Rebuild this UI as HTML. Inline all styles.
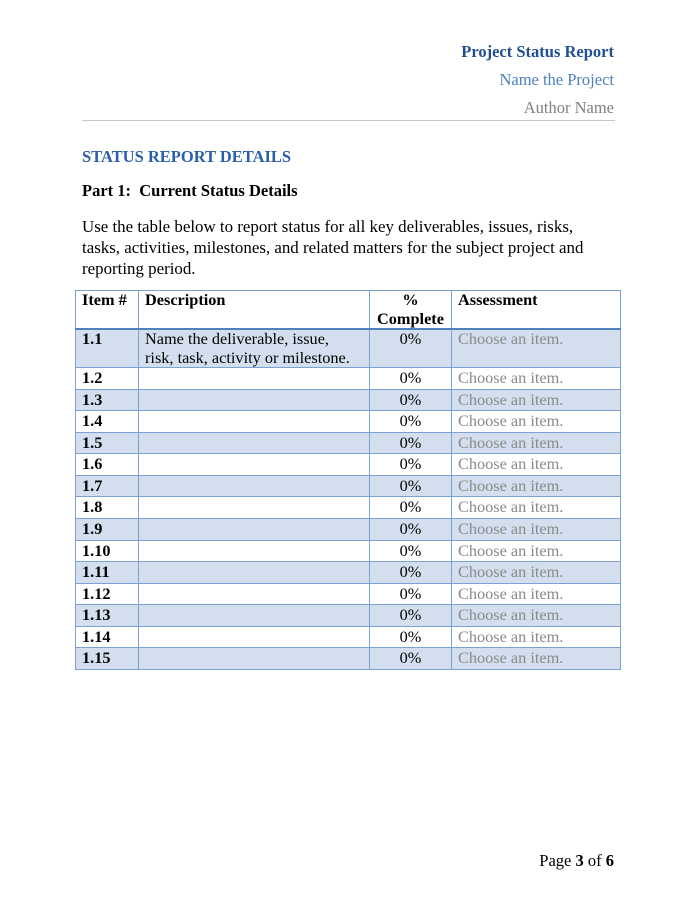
<!DOCTYPE html>
<html><head><meta charset="utf-8"><style>
body{margin:0;width:696px;height:900px;background:#fff;position:relative;font-family:"Liberation Serif",serif;color:#000;overflow:hidden}
.a{position:absolute;white-space:nowrap}
.r{right:82px;text-align:right;font-size:16.5px}
table{position:absolute;left:75px;top:290px;width:546px;border-collapse:collapse;font-size:16.3px}
td{border:1px solid #7ea1d4;padding:0 6px;height:20.57px;vertical-align:top;line-height:19.5px;overflow:hidden}
tr.t td{line-height:18.5px;height:36px}
tr.s td{background:#d3dfee}
td.c{text-align:center}
td.g{color:#8a8a8a}
td.b{font-weight:bold}
</style></head><body>
<div class="a r" style="top:42px;font-weight:bold;color:#1f4f8f">Project Status Report</div>
<div class="a r" style="top:70px;color:#4f81bd">Name the Project</div>
<div class="a r" style="top:98px;color:#808080">Author Name</div>
<div class="a" style="left:82px;top:120px;width:533px;height:1px;background:#c8c8c8"></div>
<div class="a" style="left:82px;top:147px;font-size:16.5px;font-weight:bold;color:#2a5ea8">STATUS REPORT DETAILS</div>
<div class="a" style="left:82px;top:181px;font-size:16.5px;font-weight:bold">Part 1:&nbsp; Current Status Details</div>
<div class="a" style="left:82px;top:216px;font-size:16.9px;line-height:21px">Use the table below to report status for all key deliverables, issues, risks,<br>tasks, activities, milestones, and related matters for the subject project and<br>reporting period.</div>
<table>
<colgroup><col style="width:63px"><col style="width:231px"><col style="width:82px"><col></colgroup>
<tr class="t" style="border-bottom:2px solid #4f81bd"><td class="b">Item #</td><td class="b">Description</td><td class="b c">%<br>Complete</td><td class="b">Assessment</td></tr>
<tr class="s t"><td class="b">1.1</td><td>Name the deliverable, issue,<br>risk, task, activity or milestone.</td><td class="c">0%</td><td class="g">Choose an item.</td></tr>
<tr><td class="b">1.2</td><td></td><td class="c">0%</td><td class="g">Choose an item.</td></tr>
<tr class="s"><td class="b">1.3</td><td></td><td class="c">0%</td><td class="g">Choose an item.</td></tr>
<tr><td class="b">1.4</td><td></td><td class="c">0%</td><td class="g">Choose an item.</td></tr>
<tr class="s"><td class="b">1.5</td><td></td><td class="c">0%</td><td class="g">Choose an item.</td></tr>
<tr><td class="b">1.6</td><td></td><td class="c">0%</td><td class="g">Choose an item.</td></tr>
<tr class="s"><td class="b">1.7</td><td></td><td class="c">0%</td><td class="g">Choose an item.</td></tr>
<tr><td class="b">1.8</td><td></td><td class="c">0%</td><td class="g">Choose an item.</td></tr>
<tr class="s"><td class="b">1.9</td><td></td><td class="c">0%</td><td class="g">Choose an item.</td></tr>
<tr><td class="b">1.10</td><td></td><td class="c">0%</td><td class="g">Choose an item.</td></tr>
<tr class="s"><td class="b">1.11</td><td></td><td class="c">0%</td><td class="g">Choose an item.</td></tr>
<tr><td class="b">1.12</td><td></td><td class="c">0%</td><td class="g">Choose an item.</td></tr>
<tr class="s"><td class="b">1.13</td><td></td><td class="c">0%</td><td class="g">Choose an item.</td></tr>
<tr><td class="b">1.14</td><td></td><td class="c">0%</td><td class="g">Choose an item.</td></tr>
<tr class="s"><td class="b">1.15</td><td></td><td class="c">0%</td><td class="g">Choose an item.</td></tr>
</table>
<div class="a r" style="top:851px">Page <b>3</b> of <b>6</b></div>
</body></html>
